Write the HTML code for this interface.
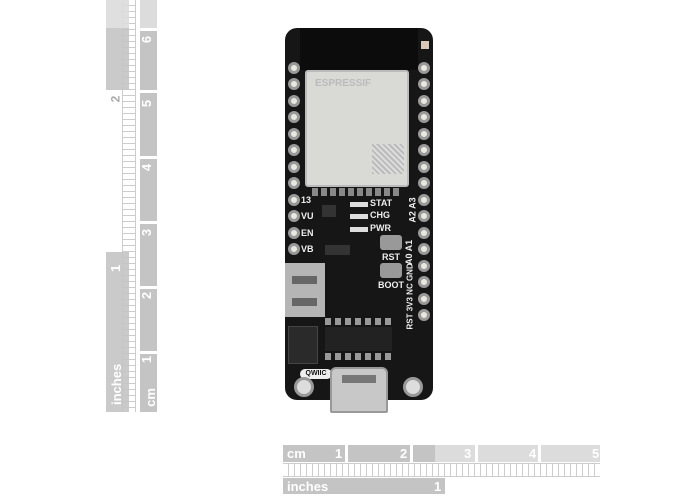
<!DOCTYPE html>
<html><head><style>
body{margin:0;width:700px;height:500px;background:#fff;position:relative;overflow:hidden;font-family:"Liberation Sans",sans-serif}
div{position:absolute;box-sizing:border-box}
.g{background:#c4c4c4}.lg{background:#dcdcdc}
.t{color:#fff;font-weight:bold;font-size:13px}
.pin{width:12px;height:12px;border-radius:50%;background:#e8e8e0;border:3px solid #999}
.lab{color:#eee;font-weight:bold;font-size:9px}
.rv{transform:rotate(-90deg);transform-origin:center}
</style></head><body>
<!-- vertical rulers -->
<div style="left:122px;top:0;width:14px;height:412px;border-left:1px solid #ccc;border-right:1px solid #ccc;background:repeating-linear-gradient(#fff 0 5px,#ccc 5px 6px)"></div>
<div class="lg" style="left:106px;top:0;width:23px;height:28px;opacity:.9"></div>
<div class="g" style="left:106px;top:28px;width:23px;height:62px;opacity:.9"></div>
<div class="g" style="left:106px;top:252px;width:23px;height:160px;opacity:.9"></div>
<div class="t rv" style="left:92px;top:372px;width:50px;height:16px">inches</div>
<div class="t rv" style="left:108px;top:256px;width:16px;height:16px">1</div>
<div style="left:112px;top:92px;color:#aaa;font-size:12px;font-weight:bold" class="rv">2</div>
<div class="lg" style="left:140px;top:0;width:17px;height:28px"></div>
<div class="g" style="left:140px;top:31px;width:17px;height:59px"></div>
<div class="g" style="left:140px;top:93px;width:17px;height:63px"></div>
<div class="g" style="left:140px;top:159px;width:17px;height:62px"></div>
<div class="g" style="left:140px;top:224px;width:17px;height:62px"></div>
<div class="g" style="left:140px;top:289px;width:17px;height:62px"></div>
<div class="g" style="left:140px;top:354px;width:17px;height:58px"></div>
<div class="t rv" style="left:143px;top:32px">6</div>
<div class="t rv" style="left:143px;top:96px">5</div>
<div class="t rv" style="left:143px;top:160px">4</div>
<div class="t rv" style="left:143px;top:225px">3</div>
<div class="t rv" style="left:143px;top:288px">2</div>
<div class="t rv" style="left:143px;top:352px">1</div>
<div class="t rv" style="left:141px;top:390px">cm</div>
<!-- bottom rulers -->
<div class="g" style="left:283px;top:445px;width:62px;height:17px"></div>
<div class="g" style="left:348px;top:445px;width:62px;height:17px"></div>
<div class="g" style="left:413px;top:445px;width:22px;height:17px"></div>
<div class="lg" style="left:435px;top:445px;width:40px;height:17px"></div>
<div class="lg" style="left:478px;top:445px;width:60px;height:17px"></div>
<div class="lg" style="left:541px;top:445px;width:59px;height:17px"></div>
<div class="t" style="left:287px;top:446px">cm</div>
<div class="t" style="left:335px;top:446px">1</div>
<div class="t" style="left:400px;top:446px">2</div>
<div class="t" style="left:464px;top:446px">3</div>
<div class="t" style="left:529px;top:446px">4</div>
<div class="t" style="left:592px;top:446px">5</div>
<div style="left:283px;top:463px;width:317px;height:14px;border-top:1px solid #ccc;border-bottom:1px solid #ccc;background:repeating-linear-gradient(90deg,#fff 0 5px,#ccc 5px 6px)"></div>
<div class="g" style="left:283px;top:478px;width:162px;height:16px"></div>
<div class="t" style="left:287px;top:479px">inches</div>
<div class="t" style="left:434px;top:479px">1</div>
<!-- board -->
<div style="left:285px;top:28px;width:148px;height:372px;background:#161616;border-radius:12px"></div>
<div style="left:300px;top:28px;width:118px;height:42px;background:#0c0c0c"></div>
<div style="left:421px;top:41px;width:8px;height:8px;background:#d8c8b8"></div>
<div style="left:305px;top:70px;width:104px;height:117px;background:#d9d9d6;border:2px solid #bbb;border-radius:3px"></div>
<div style="left:315px;top:78px;color:#bbb;font-size:10px;font-weight:bold">ESPRESSIF</div>
<div style="left:372px;top:144px;width:32px;height:30px;background:repeating-linear-gradient(45deg,#bbb 0 2px,#ddd 2px 4px)"></div>
<div style="left:312px;top:188px;width:90px;height:8px;background:repeating-linear-gradient(90deg,#888 0 6px,#161616 6px 9px)"></div>
<!-- pins -->
<div class="pin" style="left:288px;top:62px"></div><div class="pin" style="left:288px;top:78px"></div><div class="pin" style="left:288px;top:95px"></div><div class="pin" style="left:288px;top:111px"></div><div class="pin" style="left:288px;top:128px"></div><div class="pin" style="left:288px;top:144px"></div><div class="pin" style="left:288px;top:161px"></div><div class="pin" style="left:288px;top:177px"></div><div class="pin" style="left:288px;top:194px"></div><div class="pin" style="left:288px;top:210px"></div><div class="pin" style="left:288px;top:227px"></div><div class="pin" style="left:288px;top:243px"></div>
<div class="pin" style="left:418px;top:62px"></div><div class="pin" style="left:418px;top:78px"></div><div class="pin" style="left:418px;top:95px"></div><div class="pin" style="left:418px;top:111px"></div><div class="pin" style="left:418px;top:128px"></div><div class="pin" style="left:418px;top:144px"></div><div class="pin" style="left:418px;top:161px"></div><div class="pin" style="left:418px;top:177px"></div><div class="pin" style="left:418px;top:194px"></div><div class="pin" style="left:418px;top:210px"></div><div class="pin" style="left:418px;top:227px"></div><div class="pin" style="left:418px;top:243px"></div><div class="pin" style="left:418px;top:260px"></div><div class="pin" style="left:418px;top:276px"></div><div class="pin" style="left:418px;top:293px"></div><div class="pin" style="left:418px;top:309px"></div>
<div class="lab" style="left:301px;top:195px">13</div>
<div class="lab" style="left:301px;top:211px">VU</div>
<div class="lab" style="left:301px;top:228px">EN</div>
<div class="lab" style="left:301px;top:244px">VB</div>
<div style="left:350px;top:202px;width:18px;height:5px;background:#ddd"></div>
<div style="left:350px;top:214px;width:18px;height:5px;background:#ddd"></div>
<div style="left:350px;top:227px;width:18px;height:5px;background:#ddd"></div>
<div class="lab" style="left:370px;top:198px">STAT</div>
<div class="lab" style="left:370px;top:210px">CHG</div>
<div class="lab" style="left:370px;top:223px">PWR</div>
<div class="lab rv" style="left:400px;top:205px;white-space:nowrap">A2 A3</div>
<div class="lab rv" style="left:389px;top:240px;white-space:nowrap;width:40px">A0 A1</div>
<div class="lab rv" style="left:375px;top:290px;white-space:nowrap;width:70px;font-size:8px">RST 3V3 NC GND</div>
<div style="left:380px;top:235px;width:22px;height:15px;background:#999;border-radius:3px"></div>
<div class="lab" style="left:382px;top:252px">RST</div>
<div style="left:380px;top:263px;width:22px;height:15px;background:#999;border-radius:3px"></div>
<div class="lab" style="left:378px;top:280px">BOOT</div>
<div style="left:322px;top:205px;width:14px;height:12px;background:#333"></div>
<div style="left:325px;top:245px;width:25px;height:10px;background:#333"></div>
<div style="left:285px;top:263px;width:40px;height:54px;background:#b5b5b5"></div>
<div style="left:292px;top:276px;width:25px;height:8px;background:#666"></div>
<div style="left:292px;top:298px;width:25px;height:8px;background:#666"></div>
<div style="left:288px;top:326px;width:30px;height:38px;background:#2a2a2a;border:1px solid #444"></div>
<div style="left:325px;top:327px;width:67px;height:24px;background:#222"></div>
<div style="left:325px;top:318px;width:67px;height:7px;background:repeating-linear-gradient(90deg,#999 0 6px,#161616 6px 10px)"></div>
<div style="left:325px;top:353px;width:67px;height:7px;background:repeating-linear-gradient(90deg,#999 0 6px,#161616 6px 10px)"></div>
<div style="left:300px;top:369px;width:32px;height:10px;background:#eee;border-radius:5px;color:#111;font-size:7px;font-weight:bold;text-align:center;line-height:10px">QWIIC</div>
<div style="left:330px;top:367px;width:58px;height:46px;background:#c8c8c8;border-radius:6px 6px 2px 2px;border:2px solid #999"></div>
<div style="left:342px;top:375px;width:34px;height:8px;background:#777"></div>
<div style="left:294px;top:377px;width:20px;height:20px;border-radius:50%;background:#ddd;border:3px solid #999"></div>
<div style="left:403px;top:377px;width:20px;height:20px;border-radius:50%;background:#ddd;border:3px solid #999"></div>
</body></html>
